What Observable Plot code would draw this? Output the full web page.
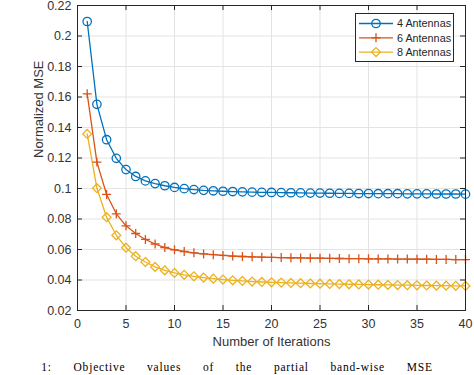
<!DOCTYPE html>
<html><head><meta charset="utf-8">
<script src="https://cdn.jsdelivr.net/npm/d3@7"></script>
<script src="https://cdn.jsdelivr.net/npm/@observablehq/plot@0.6"></script>
<style>
html,body{margin:0;padding:0;background:#fff;}
body{width:474px;height:375px;overflow:hidden;position:relative;font-family:"Liberation Sans",Arial,sans-serif;}
#chart{position:absolute;left:0;top:0;}
#legend{position:absolute;left:355px;top:13px;}
#caption{position:absolute;left:0;top:361px;width:474px;text-align:center;font-family:"Liberation Serif","Times New Roman",serif;font-size:11.5px;line-height:13px;white-space:nowrap;letter-spacing:0.8px;word-spacing:18px;color:#000;}
</style></head><body>
<div id="chart"></div>
<div id="legend"></div>
<div id="caption"></div>
<script>
// ---- data ----
const iterations = [1,2,3,4,5,6,7,8,9,10,11,12,13,14,15,16,17,18,19,20,21,22,23,24,25,26,27,28,29,30,31,32,33,34,35,36,37,38,39,40];
const seriesNames = ["4 Antennas","6 Antennas","8 Antennas"];
const mse4 = [0.2095,0.1552,0.1320,0.1198,0.1124,0.1079,0.1050,0.1032,0.1018,0.1007,0.0999,0.0993,0.0988,0.0985,0.0982,0.0980,0.0978,0.0976,0.0975,0.0974,0.0973,0.0972,0.0971,0.0970,0.0970,0.0969,0.0968,0.0968,0.0967,0.0967,0.0966,0.0966,0.0966,0.0965,0.0965,0.0965,0.0964,0.0964,0.0964,0.0963];
const mse6 = [0.1621,0.1173,0.0961,0.0834,0.0755,0.0705,0.0666,0.0636,0.0613,0.0598,0.0587,0.0578,0.0571,0.0566,0.0561,0.0557,0.0554,0.0552,0.0550,0.0548,0.0547,0.0546,0.0545,0.0544,0.0543,0.0542,0.0541,0.0540,0.0540,0.0539,0.0538,0.0538,0.0537,0.0537,0.0536,0.0536,0.0535,0.0535,0.0534,0.0534];
const mse8 = [0.1358,0.1002,0.0812,0.0693,0.0612,0.0556,0.0518,0.0486,0.0463,0.0446,0.0434,0.0424,0.0416,0.0409,0.0403,0.0398,0.0394,0.0390,0.0387,0.0385,0.0383,0.0381,0.0379,0.0377,0.0376,0.0374,0.0373,0.0372,0.0371,0.0370,0.0369,0.0368,0.0367,0.0366,0.0365,0.0364,0.0363,0.0363,0.0362,0.0361];
const xTicks = [0,5,10,15,20,25,30,35,40];
const yTicks = [0.02,0.04,0.06,0.08,0.1,0.12,0.14,0.16,0.18,0.2,0.22];
const xLabel = "Number of Iterations";
const yLabel = "Normalized MSE";
const captionText = "1: Objective values of the partial band-wise MSE";

// ---- styles ----
const seriesColors = ["#0072BD","#D95319","#EDB120"];
const seriesSymbols = ["circle","plus","diamond2"];
const seriesR = [4.2,3.0,4.0];
const axisColor = "#262626";

const seriesValues = [mse4, mse6, mse8];
const rows = [];
seriesNames.forEach((name,i)=>iterations.forEach((it,j)=>rows.push({series:name,it,v:seriesValues[i][j],r:seriesR[i]})));

const W=474,H=355,mL=77,mR=9,mT=5,mB=45;
const fW=W-mL-mR, fH=H-mT-mB;

const chart = Plot.plot({
  width:W,height:H,marginLeft:mL,marginRight:mR,marginTop:mT,marginBottom:mB,
  style:{fontFamily:"'Liberation Sans', Arial, sans-serif",fontSize:"12.5px",color:axisColor,background:"#fff",overflow:"visible"},
  x:{domain:[0,40]},
  y:{domain:[0.02,0.22]},
  color:{domain:seriesNames,range:seriesColors},
  symbol:{domain:seriesNames,range:seriesSymbols},
  r:{type:"identity"},
  marks:[
    Plot.gridX(xTicks,{stroke:"#e3e3e3",strokeOpacity:1}),
    Plot.gridY(yTicks,{stroke:"#e3e3e3",strokeOpacity:1}),
    Plot.tickX(xTicks,{x:d=>d,insetTop:fH-5,stroke:axisColor}),
    Plot.tickX(xTicks,{x:d=>d,insetBottom:fH-5,stroke:axisColor}),
    Plot.tickY(yTicks,{y:d=>d,insetRight:fW-5,stroke:axisColor}),
    Plot.tickY(yTicks,{y:d=>d,insetLeft:fW-5,stroke:axisColor}),
    Plot.axisX(xTicks,{tickSize:0,tickPadding:9,label:null,fill:"#333"}),
    Plot.axisY(yTicks,{tickSize:0,tickPadding:6,label:null,fill:"#333",tickFormat:d=>String(+d.toFixed(2))}),
    Plot.line(rows,{x:"it",y:"v",z:"series",stroke:"series",strokeWidth:1.3}),
    Plot.dot(rows,{x:"it",y:"v",stroke:"series",symbol:"series",r:"r",fill:"none",strokeWidth:1.3}),
    Plot.frame({stroke:axisColor,strokeWidth:1}),
    Plot.text([xLabel],{text:d=>d,frameAnchor:"bottom",dy:31,lineAnchor:"middle",fill:"#333",fontSize:13}),
    Plot.text([yLabel],{text:d=>d,frameAnchor:"left",dx:-39,rotate:-90,lineAnchor:"middle",fill:"#333",fontSize:13})
  ]
});
document.getElementById("chart").append(chart);

// ---- legend ----
const lg = d3.select("#legend").append("svg").attr("width",99).attr("height",49);
lg.append("rect").attr("x",0.5).attr("y",0.5).attr("width",98).attr("height",48).attr("fill","#fff").attr("stroke",axisColor);
const symMap = {circle:d3.symbolCircle, plus:d3.symbolPlus, diamond2:d3.symbolDiamond2};
seriesNames.forEach((name,i)=>{
  const cy = 10.5 + i*14.3;
  const g = lg.append("g").attr("transform",`translate(0,${cy})`);
  g.append("line").attr("x1",4).attr("x2",38).attr("y1",0).attr("y2",0).attr("stroke",seriesColors[i]).attr("stroke-width",1.3);
  g.append("path").attr("transform","translate(21,0)")
    .attr("d",d3.symbol(symMap[seriesSymbols[i]],Math.PI*seriesR[i]*seriesR[i])())
    .attr("fill","none").attr("stroke",seriesColors[i]).attr("stroke-width",1.3);
  g.append("text").attr("x",42).attr("y",0).attr("dy","0.35em")
    .attr("font-family","'Liberation Sans', Arial, sans-serif").attr("font-size","10.8px").attr("fill","#262626").text(name);
});

document.getElementById("caption").textContent = captionText;
</script>
</body></html>
